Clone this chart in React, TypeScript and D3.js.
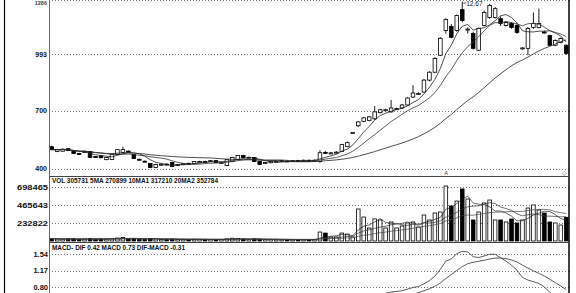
import React from 'react';
import * as d3 from 'd3';

const opens = [513,488,490,503,488,478,486,488,462,466,446,447,472,483,490,472,448,438,426,405,420,423,431,415,420,427,426,430,437,438,441,430,415,436,446,467,456,457,436,428,430,436,440,439,438,442,440,443,441,436,484,478,482,488,514,584,622,645,650,658,690,702,694,708,714,730,771,788,797,859,900,988,1117,1137,1117,1225,1120,1101,1014,1143,1184,1184,1178,1143,1153,1143,1024,1024,1132,1132,1109,1090,1040,1055,1040];
const highs = [518,502,504,506,492,481,492,490,465,469,460,475,500,513,494,475,451,441,428,424,425,426,434,424,429,430,439,440,440,444,444,435,448,460,470,471,462,460,439,434,439,441,444,442,444,445,446,446,447,495,490,486,490,528,540,587,646,668,672,725,710,710,756,716,735,770,833,796,865,905,978,1082,1180,1150,1200,1267,1132,1110,1132,1220,1255,1238,1190,1165,1160,1150,1030,1135,1210,1230,1115,1095,1070,1080,1045];
const lows = [495,485,487,490,475,472,482,455,456,453,443,444,470,480,485,449,443,433,402,402,417,418,407,412,417,422,423,428,432,435,428,427,412,433,443,454,452,433,418,425,427,433,437,434,435,437,437,438,438,430,476,474,478,485,510,584,615,640,645,652,686,698,690,704,710,726,766,782,794,852,895,984,1100,1076,1110,1160,1101,1018,1010,1138,1178,1178,1140,1138,1125,1100,1018,988,1125,1128,1100,1035,1035,1050,990];
const closes = [498,498,500,493,478,476,488,457,460,456,457,472,498,498,488,452,446,436,405,421,422,421,410,421,426,425,436,436,435,441,431,432,446,457,467,457,458,436,421,431,436,438,441,437,441,440,443,441,443,482,480,481,485,524,534,587,642,663,668,694,705,705,714,711,730,766,792,790,859,900,972,1076,1174,1081,1194,1168,1124,1024,1127,1210,1246,1230,1153,1158,1132,1107,1026,1127,1153,1153,1105,1040,1065,1075,998];
const volumes = [30000,26000,24000,27000,28000,22000,25000,31000,24000,26000,25000,30000,38000,45000,28000,30000,22000,21000,32000,27000,20000,19000,24000,21000,20000,18000,22000,21000,19000,18000,20000,19000,28000,35000,32000,26000,20000,27000,24000,18000,19000,17000,16000,17000,16000,15000,17000,16000,18000,116000,103000,52000,52000,103000,90000,52000,414000,310000,168000,285000,272000,168000,246000,168000,194000,233000,246000,181000,336000,272000,362000,375000,711000,453000,517000,673000,543000,272000,375000,492000,530000,272000,272000,246000,285000,233000,272000,427000,466000,401000,362000,246000,233000,207000,305731];

const priceTicks = [400, 700, 993];
const priceTickLabels = ['400', '700', '993'];
const topPriceLabel = '1286';
const volTicks = [232822, 465643, 698465];
const volTickLabels = ['232822', '465643', '698465'];
const macdTicks = [0.8, 1.17, 1.54];
const macdTickLabels = ['0.80', '1.17', '1.54'];
const volHeader = 'VOL 305731  5MA 270899  10MA1 317210  20MA2 352784';
const macdHeader = 'MACD- DIF 0.42  MACD 0.73  DIF-MACD -0.31';
const highLabel = '12.67';

const maOf = (arr: number[], n: number) =>
  arr.map((_, i) => d3.mean(arr.slice(Math.max(0, i - n + 1), i + 1)) as number);
const emaOf = (arr: number[], n: number) => {
  const k = 2 / (n + 1);
  let e = arr[0];
  return arr.map((v, i) => (i === 0 ? (e = v) : (e = v * k + e * (1 - k))));
};

export default function App() {
  const N = closes.length;
  const L = 49, R = 569;
  const x = d3.scaleBand<number>().domain(d3.range(N)).range([L, R]).paddingInner(0.34).paddingOuter(0.17);
  const bw = x.bandwidth();
  const cx = (i: number) => (x(i) as number) + bw / 2;
  const yP = d3.scaleLinear().domain([400, 993]).range([168.5, 54.3]);
  const yV = d3.scaleLinear().domain([0, 698465]).range([241, 187]);
  const yM = d3.scaleLinear().domain([0.8, 1.54]).range([287, 254]);

  const idx = d3.range(N);
  const priceLine = (arr: number[]) => d3.line<number>().x(cx).y(i => yP(arr[i]))(idx) as string;
  const volLine = (arr: number[]) => d3.line<number>().x(cx).y(i => yV(arr[i]))(idx) as string;
  const macdLine = (arr: number[]) => d3.line<number>().x(cx).y(i => yM(arr[i]))(idx) as string;

  const ma5 = maOf(closes, 5), ma10 = maOf(closes, 10), ma30 = maOf(closes, 30);
  const vma5 = maOf(volumes, 5), vma10 = maOf(volumes, 10), vma20 = maOf(volumes, 20);
  const c = closes.map(v => v / 100);
  const e12 = emaOf(c, 12), e26 = emaOf(c, 26);
  const dif = e12.map((v, i) => v - e26[i]);
  const dea = emaOf(dif, 9);

  const font = '"Liberation Sans", Arial, sans-serif';
  const grid = { stroke: '#777', strokeWidth: 1, strokeDasharray: '1,2' };
  const hiIdx = d3.maxIndex(highs);

  return (
    <svg width={576} height={293} style={{ position: 'absolute', left: 0, top: 0, background: '#fff' }}
      fontFamily={font}>
      <defs>
        <clipPath id="cp"><rect x={L} y={0} width={R - L} height={176} /></clipPath>
        <clipPath id="cv"><rect x={L} y={177} width={R - L} height={65} /></clipPath>
        <clipPath id="cm"><rect x={L} y={243} width={R - L} height={50} /></clipPath>
      </defs>
      <rect x={0} y={0} width={576} height={293} fill="#fff" />

      {/* grids */}
      <line x1={L} x2={R} y1={0.5} y2={0.5} {...grid} />
      <text x={47} y={3.2} dy="0.35em" textAnchor="end" fontSize={5.5} fontWeight="bold" fill="#444">{topPriceLabel}</text>
      {priceTicks.map((t, k) => (
        <g key={'p' + k}>
          <line x1={L} x2={R} y1={Math.round(yP(t)) + 0.5} y2={Math.round(yP(t)) + 0.5} {...grid} />
          <text x={47} y={yP(t)} dy="0.35em" textAnchor="end" fontSize={7} fontWeight="bold" fill="#111">{priceTickLabels[k]}</text>
        </g>
      ))}
      {volTicks.map((t, k) => (
        <g key={'v' + k}>
          <line x1={L} x2={R} y1={Math.round(yV(t)) + 0.5} y2={Math.round(yV(t)) + 0.5} {...grid} />
          <text x={48} y={yV(t)} dy="0.35em" textAnchor="end" fontSize={7.5} fontWeight="bold" fill="#111"
            textLength={31} lengthAdjust="spacingAndGlyphs">{volTickLabels[k]}</text>
        </g>
      ))}
      {macdTicks.map((t, k) => (
        <g key={'m' + k}>
          <line x1={L} x2={R} y1={Math.round(yM(t)) + 0.5} y2={Math.round(yM(t)) + 0.5} {...grid} />
          <text x={48} y={yM(t)} dy="0.35em" textAnchor="end" fontSize={7.5} fontWeight="bold" fill="#111">{macdTickLabels[k]}</text>
        </g>
      ))}

      {/* price candles */}
      <g clipPath="url(#cp)">
        {idx.map(i => {
          const up = closes[i] >= opens[i];
          const top = yP(Math.max(opens[i], closes[i]));
          const bot = yP(Math.min(opens[i], closes[i]));
          const h = Math.max(1, bot - top);
          return (
            <g key={i}>
              <line x1={cx(i)} x2={cx(i)} y1={yP(highs[i])} y2={yP(lows[i])} stroke="#000" strokeWidth={0.9} />
              <rect x={x(i) as number} y={top} width={bw} height={h}
                fill={up ? '#fff' : '#000'} stroke="#000" strokeWidth={0.8} />
            </g>
          );
        })}
        <path d={priceLine(ma5)} fill="none" stroke="#222" strokeWidth={0.8} />
        <path d={priceLine(ma10)} fill="none" stroke="#333" strokeWidth={0.8} />
        <path d={priceLine(ma30)} fill="none" stroke="#222" strokeWidth={0.8} />
      </g>
      <line x1={cx(hiIdx) + 1} x2={cx(hiIdx) + 4} y1={yP(highs[hiIdx]) + 1.5} y2={yP(highs[hiIdx]) + 1.5} stroke="#000" strokeWidth={0.7} />
      <text x={cx(hiIdx) + 4} y={6} fontSize={6.5} fill="#111">{highLabel}</text>

      {/* volume */}
      <g clipPath="url(#cv)">
        {idx.map(i => {
          const up = closes[i] >= opens[i];
          const top = yV(volumes[i]);
          return (
            <rect key={i} x={x(i) as number} y={top} width={bw} height={Math.max(1, yV(0) - top)}
              fill={up ? '#fff' : '#000'} stroke="#000" strokeWidth={0.8} />
          );
        })}
        <path d={volLine(vma5)} fill="none" stroke="#222" strokeWidth={0.7} />
        <path d={volLine(vma10)} fill="none" stroke="#333" strokeWidth={0.7} />
        <path d={volLine(vma20)} fill="none" stroke="#444" strokeWidth={0.7} />
      </g>
      <text x={52} y={182.5} fontSize={6.5} fontWeight="bold" fill="#111" textLength={166} lengthAdjust="spacingAndGlyphs">{volHeader}</text>

      {/* macd */}
      <g clipPath="url(#cm)">
        <path d={macdLine(dif)} fill="none" stroke="#333" strokeWidth={0.8} />
        <path d={macdLine(dea)} fill="none" stroke="#333" strokeWidth={0.8} />
      </g>
      <text x={52} y={250} fontSize={6.5} fontWeight="bold" fill="#111" textLength={133} lengthAdjust="spacingAndGlyphs">{macdHeader}</text>

      {/* markers */}
      <text x={446} y={175} fontSize={5.5} textAnchor="middle" fill="#333">A</text>
      <text x={564} y={175} fontSize={5.5} textAnchor="middle" fill="#333">◇</text>

      {/* frame */}
      <line x1={4.5} x2={4.5} y1={0} y2={293} stroke="#000" strokeWidth={1.2} />
      <line x1={L + 0.5} x2={L + 0.5} y1={0} y2={293} stroke="#666" strokeWidth={1} />
      <line x1={R} x2={R} y1={0} y2={293} stroke="#000" strokeWidth={1.5} />
      <line x1={L} x2={R} y1={176.5} y2={176.5} stroke="#444" strokeWidth={1} />
      <line x1={L} x2={R} y1={242.5} y2={242.5} stroke="#444" strokeWidth={1.2} />
    </svg>
  );
}
